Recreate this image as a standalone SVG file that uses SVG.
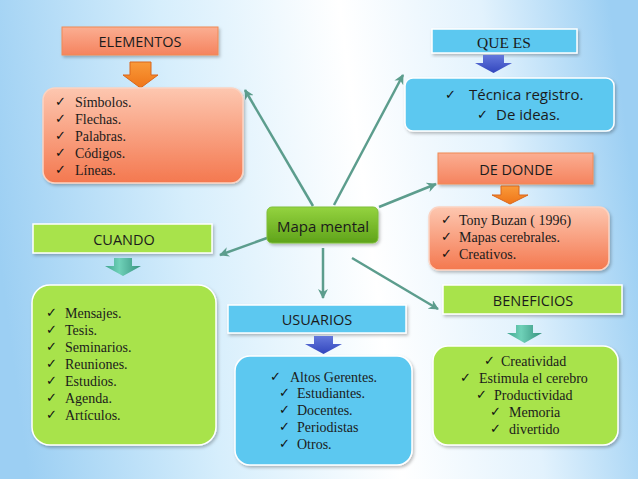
<svg xmlns="http://www.w3.org/2000/svg" width="638" height="479" viewBox="0 0 638 479">
<defs>
<linearGradient id="bg" x1="0" y1="0.55" x2="1" y2="0.45">
<stop offset="0" stop-color="#9ccff3"/>
<stop offset="0.3" stop-color="#d6eefc"/>
<stop offset="0.58" stop-color="#ffffff"/>
<stop offset="0.8" stop-color="#e2f2fd"/>
<stop offset="1" stop-color="#9ccff3"/>
</linearGradient>
<linearGradient id="salmonH" x1="0" y1="0" x2="0" y2="1">
<stop offset="0" stop-color="#fbae92"/>
<stop offset="1" stop-color="#f5835e"/>
</linearGradient>
<linearGradient id="salmonL" x1="0" y1="0" x2="0" y2="1">
<stop offset="0" stop-color="#fdc7b0"/>
<stop offset="1" stop-color="#f4784f"/>
</linearGradient>
<linearGradient id="mapa" x1="0" y1="0" x2="0" y2="1">
<stop offset="0" stop-color="#94d33f"/>
<stop offset="1" stop-color="#5fa31a"/>
</linearGradient>
<linearGradient id="orangeA" x1="0" y1="0" x2="0" y2="1">
<stop offset="0" stop-color="#f99a3a"/>
<stop offset="1" stop-color="#ef7518"/>
</linearGradient>
<linearGradient id="blueA" x1="0" y1="0" x2="0" y2="1">
<stop offset="0" stop-color="#6478dc"/>
<stop offset="1" stop-color="#3246bd"/>
</linearGradient>
<linearGradient id="tealA" x1="0" y1="0" x2="1" y2="0">
<stop offset="0" stop-color="#3fa58f"/>
<stop offset="0.4" stop-color="#6fd1b8"/>
<stop offset="1" stop-color="#35917e"/>
</linearGradient>
<filter id="sh" x="-10%" y="-10%" width="125%" height="130%">
<feDropShadow dx="1.5" dy="2" stdDeviation="1.5" flood-color="#000" flood-opacity="0.25"/>
</filter>
<marker id="ah" viewBox="0 0 10 10" refX="9" refY="5" markerWidth="4" markerHeight="4" orient="auto" markerUnits="strokeWidth">
<path d="M0,0 L10,5 L0,10 L3,5 Z" fill="#5c9d8d"/>
</marker>
<style>
.hs{font-family:"Open Sans","Noto Sans","Liberation Sans",sans-serif;font-size:14.5px;fill:#1b1b1b;text-anchor:middle}
.sr{font-family:"Liberation Serif","Times New Roman",serif;font-size:14px;fill:#1b1b1b}
.ss{font-family:"Open Sans","Noto Sans","Liberation Sans",sans-serif;font-size:15px;fill:#1b1b1b}
.ck{font-family:"DejaVu Sans",sans-serif;font-size:13px;fill:#111}
.salH{fill:url(#salmonH);stroke:#f08a55;stroke-width:1}
.salL{fill:url(#salmonL);stroke:#fbd3c2;stroke-width:1.5}
.cy{fill:#5bc8f0;stroke:#ffffff;stroke-width:1.5}
.gr{fill:#a8e34c;stroke:#ffffff;stroke-width:1.5}
.conn{stroke:#5c9d8d;stroke-width:2.5;fill:none;marker-end:url(#ah)}
</style>
</defs>
<rect x="0" y="0" width="638" height="479" fill="url(#bg)"/>

<g id="connectors">
<line class="conn" x1="313" y1="206" x2="245" y2="90"/>
<line class="conn" x1="334" y1="205" x2="403" y2="75"/>
<line class="conn" x1="379" y1="207" x2="436" y2="184"/>
<line class="conn" x1="267" y1="238" x2="220" y2="255"/>
<line class="conn" x1="323" y1="248" x2="323" y2="298"/>
<line class="conn" x1="352" y1="258" x2="438" y2="309"/>
</g>

<g id="mapa-mental">
<rect x="267" y="207" width="111" height="36" rx="5" fill="url(#mapa)" stroke="#7fbf3a" stroke-width="1" filter="url(#sh)"/>
<text class="hs" x="323" y="232" style="font-size:15px">Mapa mental</text>
</g>

<g id="elementos">
<rect x="62" y="27" width="156" height="28" class="salH" filter="url(#sh)"/>
<text class="hs" x="140" y="47">ELEMENTOS</text>
<path d="M130,62 H151 V75 H158 L140.5,88 L123,75 H130 Z" fill="url(#orangeA)" stroke="#d9671c" stroke-width="1"/>
</g>

<g id="elementos-lista">
<rect x="43" y="88" width="200" height="95" rx="12" class="salL" filter="url(#sh)"/>
<text class="ck" x="55" y="106">✓</text><text class="sr" x="75" y="107">Símbolos.</text>
<text class="ck" x="55" y="123">✓</text><text class="sr" x="75" y="124">Flechas.</text>
<text class="ck" x="55" y="140">✓</text><text class="sr" x="75" y="141">Palabras.</text>
<text class="ck" x="55" y="157">✓</text><text class="sr" x="75" y="158">Códigos.</text>
<text class="ck" x="55" y="174">✓</text><text class="sr" x="75" y="175">Líneas.</text>
</g>

<g id="que-es">
<rect x="432" y="29" width="145" height="24" class="cy" filter="url(#sh)"/>
<text class="sr" x="504" y="48" style="font-size:15.5px;text-anchor:middle">QUE ES</text>
<path d="M483,55 H504 V63 H512 L493.5,73 L475,63 H483 Z" fill="url(#blueA)"/>
</g>

<g id="que-es-lista">
<rect x="405" y="78" width="209" height="53" rx="8" class="cy" filter="url(#sh)"/>
<text class="ck" x="445" y="99">✓</text><text class="ss" x="469" y="100">Técnica registro.</text>
<text class="ck" x="477" y="119">✓</text><text class="ss" x="496" y="120">De ideas.</text>
</g>

<g id="de-donde">
<rect x="438" y="153" width="155" height="31" class="salH" filter="url(#sh)"/>
<text class="hs" x="516" y="175">DE DONDE</text>
<path d="M501,186 H519 V195 H528 L510,204 L492,195 H501 Z" fill="url(#orangeA)" stroke="#d9671c" stroke-width="1"/>
</g>

<g id="de-donde-lista">
<rect x="429" y="207" width="180" height="63" rx="10" class="salL" filter="url(#sh)"/>
<text class="ck" x="441" y="224">✓</text><text class="sr" x="459" y="225">Tony Buzan ( 1996)</text>
<text class="ck" x="441" y="241">✓</text><text class="sr" x="459" y="242">Mapas cerebrales.</text>
<text class="ck" x="441" y="258">✓</text><text class="sr" x="459" y="259">Creativos.</text>
</g>

<g id="cuando">
<rect x="33" y="224" width="179" height="29" class="gr" filter="url(#sh)"/>
<text class="hs" x="124" y="245">CUANDO</text>
<path d="M114,258 H132 V266 H141 L123,276 L105,266 H114 Z" fill="url(#tealA)"/>
</g>

<g id="cuando-lista">
<rect x="32" y="285" width="184" height="160" rx="18" class="gr" filter="url(#sh)"/>
<text class="ck" x="46" y="317">✓</text><text class="sr" x="65" y="318">Mensajes.</text>
<text class="ck" x="46" y="334">✓</text><text class="sr" x="65" y="335">Tesis.</text>
<text class="ck" x="46" y="351">✓</text><text class="sr" x="65" y="352">Seminarios.</text>
<text class="ck" x="46" y="368">✓</text><text class="sr" x="65" y="369">Reuniones.</text>
<text class="ck" x="46" y="385">✓</text><text class="sr" x="65" y="386">Estudios.</text>
<text class="ck" x="46" y="402">✓</text><text class="sr" x="65" y="403">Agenda.</text>
<text class="ck" x="46" y="419">✓</text><text class="sr" x="65" y="420">Artículos.</text>
</g>

<g id="usuarios">
<rect x="228" y="305" width="178" height="28" class="cy" filter="url(#sh)"/>
<text class="hs" x="317" y="325">USUARIOS</text>
<path d="M314,336 H333 V344 H342 L323.5,354 L305,344 H314 Z" fill="url(#blueA)"/>
</g>

<g id="usuarios-lista">
<rect x="235" y="356" width="177" height="109" rx="15" class="cy" filter="url(#sh)"/>
<text class="ck" x="270" y="381">✓</text><text class="sr" x="290" y="382">Altos Gerentes.</text>
<text class="ck" x="279" y="397">✓</text><text class="sr" x="297" y="398">Estudiantes.</text>
<text class="ck" x="279" y="414">✓</text><text class="sr" x="297" y="415">Docentes.</text>
<text class="ck" x="279" y="431">✓</text><text class="sr" x="297" y="432">Periodistas</text>
<text class="ck" x="279" y="448">✓</text><text class="sr" x="297" y="449">Otros.</text>
</g>

<g id="beneficios">
<rect x="443" y="285" width="179" height="29" class="gr" filter="url(#sh)"/>
<text class="hs" x="533" y="306">BENEFICIOS</text>
<path d="M516,325 H533 V333 H542 L524.5,343 L507,333 H516 Z" fill="url(#tealA)"/>
</g>

<g id="beneficios-lista">
<rect x="433" y="346" width="185" height="99" rx="15" class="gr" filter="url(#sh)"/>
<text class="ck" x="484" y="365">✓</text><text class="sr" x="501" y="366">Creatividad</text>
<text class="ck" x="460" y="382">✓</text><text class="sr" x="479" y="383">Estimula el cerebro</text>
<text class="ck" x="476" y="399">✓</text><text class="sr" x="494" y="400">Productividad</text>
<text class="ck" x="490" y="416">✓</text><text class="sr" x="509" y="417">Memoria</text>
<text class="ck" x="490" y="433">✓</text><text class="sr" x="509" y="434">divertido</text>
</g>
</svg>
